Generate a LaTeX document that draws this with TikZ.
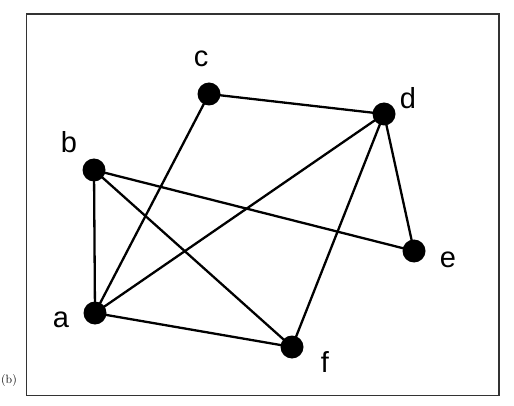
\documentclass[tikz,border=0pt]{standalone}
\usepackage{fontspec}
\newfontfamily\labfont{Liberation Sans}
\begin{document}
\begin{tikzpicture}[x=1pt,y=-1pt,
  vertex/.style={circle,fill=black,inner sep=0pt,minimum size=23pt},
  edge/.style={line width=2.3pt,black},
  lab/.style={font=\labfont\fontsize{29}{29}\selectfont,inner sep=0pt}]
\useasboundingbox (0,0) rectangle (514,406);
\draw[line width=1.2pt,black!80] (26.5,14) rectangle (499,395.5);
\node[font=\fontsize{12}{12}\selectfont,inner sep=0pt] (cap) at (9,381) {(b)};
\node[vertex] (a) at (95,313) {};
\node[vertex] (b) at (94,170) {};
\node[vertex] (c) at (209,94) {};
\node[vertex] (d) at (384,114) {};
\node[vertex] (e) at (414,251) {};
\node[vertex] (f) at (292,347) {};
\node[lab] (la) at (61,320) {a};
\node[lab] (lb) at (69,142) {b};
\node[lab] (lc) at (201,59) {c};
\node[lab] (ld) at (408,98) {d};
\node[lab] (le) at (448,260) {e};
\node[lab] (lf) at (325,362) {f};
\draw[edge] (c.center) -- (d.center);
\draw[edge] (c.center) -- (a.center);
\draw[edge] (b.center) -- (a.center);
\draw[edge] (b.center) -- (e.center);
\draw[edge] (b.center) -- (f.center);
\draw[edge] (a.center) -- (d.center);
\draw[edge] (a.center) -- (f.center);
\draw[edge] (d.center) -- (e.center);
\draw[edge] (d.center) -- (f.center);
\end{tikzpicture}
\end{document}
